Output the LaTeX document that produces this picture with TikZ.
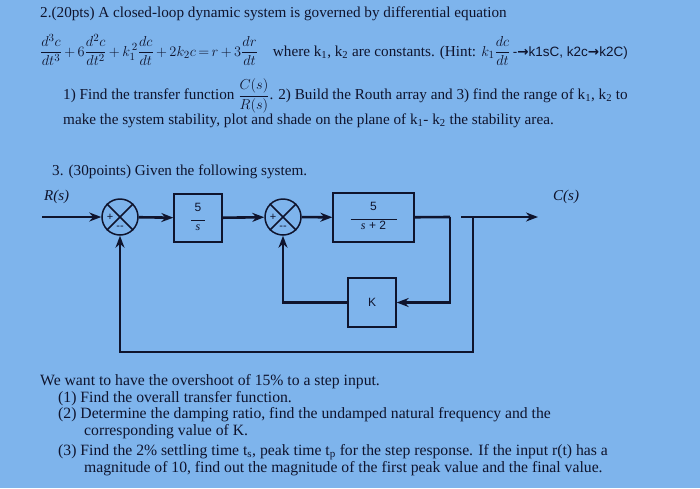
\documentclass[tikz,border=0pt]{standalone}
\usepackage{amsmath}
\usepackage{fontspec}
\setmainfont{Liberation Serif}
\newfontfamily\arial{Liberation Sans}
\newfontfamily\dejavu{DejaVu Sans}
\usetikzlibrary{arrows.meta}
\definecolor{bg}{RGB}{126,180,236}
\definecolor{ink}{RGB}{15,20,45}
\begin{document}
\begin{tikzpicture}[x=1pt,y=-1pt,
  txt/.style={anchor=west,inner sep=0pt,text=ink,font=\fontsize{15.2}{17}\selectfont},
  txtb/.style={anchor=west,inner sep=0pt,text=ink,font=\fontsize{15.7}{17}\selectfont},
  blk/.style={draw=ink,line width=1.3pt,minimum width=48pt,minimum height=48pt,inner sep=0pt,text=ink},
  sumj/.style={draw=ink,line width=1.5pt,circle,minimum size=36pt,inner sep=0pt},
  sig/.style={draw=ink,line width=2.6pt,-{Stealth[length=12pt,width=9pt]}},
  wire/.style={draw=ink,line width=2.6pt}]
\fill[bg] (0,0) rectangle (700,488);
\useasboundingbox (0,0) rectangle (700,488);
% problem 2
\node[txt] (l1) at (40,14) {2.(20pts) A closed-loop dynamic system is governed by differential equation};
\node[txt] (l2) at (40,50) {$\dfrac{d^3c}{dt^3}\,{+}\,6\dfrac{d^2c}{dt^2}\,{+}\,k_1^{\,2}\dfrac{dc}{dt}\,{+}\,2k_2c\,{=}\,r\,{+}\,3\dfrac{dr}{dt}$\quad where k\textsubscript{1}, k\textsubscript{2} are constants. (Hint: $k_1\dfrac{dc}{dt}$\,{\arial\fontsize{13.5}{14}\selectfont -{\dejavu\bfseries→}k1sC, k2c{\dejavu\bfseries→}k2C)}};
\node[txt] (l3) at (63,96) {1) Find the transfer function $\dfrac{C(s)}{R(s)}$. 2) Build the Routh array and 3) find the range of k\textsubscript{1}, k\textsubscript{2} to};
\node[txt] (l4) at (63,121) {make the system stability, plot and shade on the plane of k\textsubscript{1}- k\textsubscript{2} the stability area.};
% problem 3
\node[txt] (p3) at (52,172) {3. (30points) Given the following system.};
\node[txt,font=\fontsize{15}{16}\selectfont\itshape] (R) at (44,197) {R(s)};
\node[txt,font=\fontsize{15}{16}\selectfont\itshape] (C) at (553,197) {C(s)};
\coordinate (in) at (42,217);
\node[sumj] (s1) at (120,217) {};
\draw[ink,line width=1.5pt] (s1.north west)--(s1.south east) (s1.north east)--(s1.south west);
\node[ink,font=\arial\fontsize{11}{11}\selectfont] at (110,217) {+};
\node[ink,font=\arial\fontsize{11}{11}\selectfont] at (120,228) {--};
\node[blk] (b1) at (198,218) {\arial\fontsize{12}{13}\selectfont\begin{tabular}{@{}c@{}}5\\[-4pt]\rule{14pt}{0.6pt}\\[-3pt]{\rmfamily\itshape s}\end{tabular}};
\node[sumj] (s2) at (283,217) {};
\draw[ink,line width=1.5pt] (s2.north west)--(s2.south east) (s2.north east)--(s2.south west);
\node[ink,font=\arial\fontsize{11}{11}\selectfont] at (273,217) {+};
\node[ink,font=\arial\fontsize{11}{11}\selectfont] at (283,228) {--};
\node[blk,minimum width=81pt,minimum height=49pt] (b2) at (373.5,217.5) {\arial\fontsize{12}{13}\selectfont\begin{tabular}{@{}c@{}}5\\[-4pt]\rule{46pt}{0.6pt}\\[-3pt]{\rmfamily\itshape s} + 2\end{tabular}};
\node[blk,minimum height=49pt] (K) at (372,302.5) {\arial\fontsize{12}{13}\selectfont K};
\coordinate (br) at (450,217);
\coordinate (gap) at (461,217);
\coordinate (br2) at (473,217);
\coordinate (out) at (538,217);
\draw[sig] (in) -- (s1);
\draw[sig] (s1) -- (b1);
\draw[sig] (b1) -- (s2);
\draw[sig] (s2) -- (b2);
\draw[wire] (b2) -- (br);
\draw[sig] (gap) -- (out);
\draw[sig] (br) |- (K);
\draw[sig] (K) -| (s2);
\draw[sig] (br2) -- (473,352) -| (s1);
% text
\node[txtb] (w) at (40,382) {We want to have the overshoot of 15\% to a step input.};
\node[txtb] (q1) at (58,399) {(1) Find the overall transfer function.};
\node[txtb] (q2) at (58,415) {(2) Determine the damping ratio, find the undamped natural frequency and the};
\node[txtb] (q2b) at (84,432) {corresponding value of K.};
\node[txtb] (q3) at (58,452) {(3) Find the 2\% settling time t\textsubscript{s}, peak time t\textsubscript{p} for the step response. If the input r(t) has a};
\node[txtb] (q3b) at (84,469) {magnitude of 10, find out the magnitude of the first peak value and the final value.};
\end{tikzpicture}
\end{document}
